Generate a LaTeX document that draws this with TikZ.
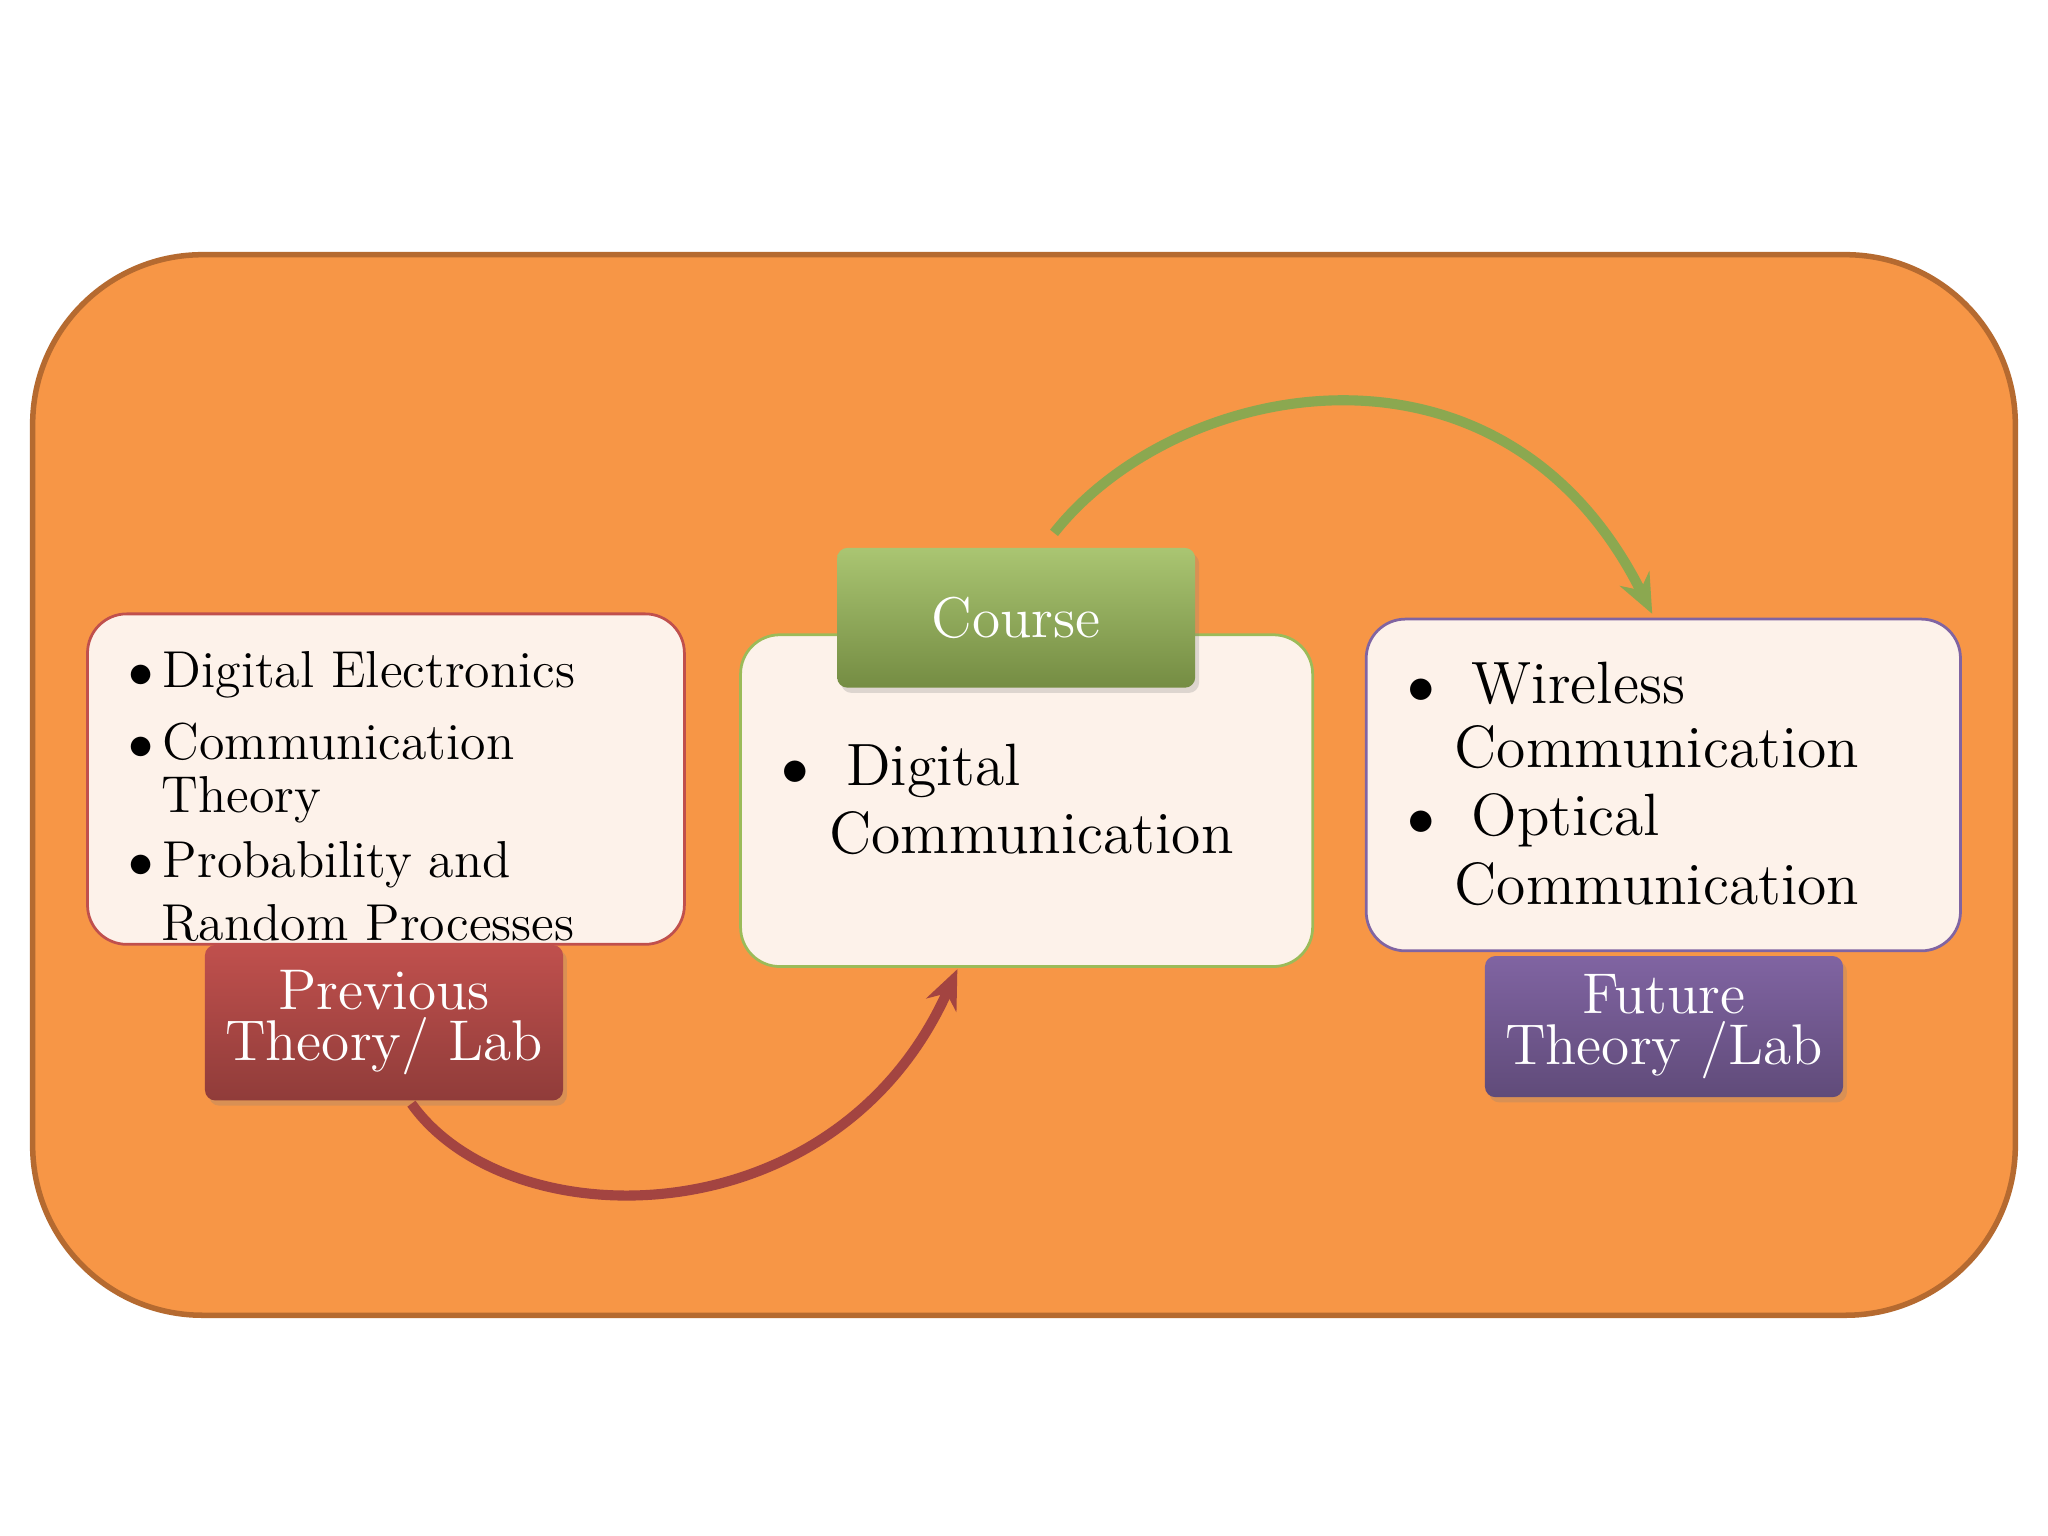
\documentclass[tikz,border=0pt]{standalone}
\usetikzlibrary{arrows.meta,shadows}
\definecolor{orfill}{HTML}{F79646}
\definecolor{orline}{HTML}{B56A30}
\definecolor{boxfill}{HTML}{FDF2EA}
\definecolor{redc}{HTML}{C0504D}
\definecolor{greenc}{HTML}{9BBB59}
\definecolor{purc}{HTML}{8064A2}
\tikzset{
  infobox/.style={draw, fill=boxfill, rounded corners=0.3cm, line width=0.6pt},
  tag/.style={rounded corners=0.08cm, text=white, align=center, font=\fontsize{12.5}{14}\selectfont, drop shadow={opacity=0.25, shadow xshift=0.03cm, shadow yshift=-0.04cm}},
  ltxt/.style={anchor=west, inner sep=0pt, font=\fontsize{11.3}{13}\selectfont},
  btxt/.style={anchor=west, inner sep=0pt, font=\fontsize{13}{15}\selectfont},
  arr/.style={line width=2.2pt, -{Stealth[length=0.3cm,width=0.25cm]}}
}
\begin{document}
\begin{tikzpicture}[x=0.01cm,y=-0.01cm]
\useasboundingbox (0,0) rectangle (1568,1176);
\fill[white] (0,0) rectangle (1568,1176);
\draw[fill=orfill, draw=orline, line width=1.2pt, rounded corners=1.3cm] (25,195) rectangle (1543,1007);
% boxes
\draw[infobox, draw=redc] (67,470) rectangle (524,723);
\draw[infobox, draw=greenc] (567,486) rectangle (1005,740);
\draw[infobox, draw=purc] (1046,474) rectangle (1501,728);
% left texts
\node[ltxt] (l1) at (98,517) {$\bullet$\,Digital Electronics};
\node[ltxt] (l2) at (98,568) {$\bullet$\,Communication};
\node[ltxt] (l3) at (123,612) {Theory};
\node[ltxt] (l4) at (98,662) {$\bullet$\,Probability and};
\node[ltxt] (l5) at (123,707) {Random Processes};
% middle
\node[btxt] (m1) at (598,590) {$\bullet$\hspace{0.28cm}Digital};
\node[btxt] (m2) at (634,638) {Communication};
% right
\node[btxt] (r1) at (1077,523) {$\bullet$\hspace{0.28cm}Wireless};
\node[btxt] (r2) at (1113,572) {Communication};
\node[btxt] (r3) at (1077,628) {$\bullet$\hspace{0.28cm}Optical};
\node[btxt] (r4) at (1113,677) {Communication};
% tags
\node[tag, top color=greenc!85!white, bottom color=greenc!75!black, minimum width=2.74cm, minimum height=1.07cm] (course) at (778,473) {Course};
\node[tag, top color=redc, bottom color=redc!75!black, minimum width=2.74cm, minimum height=1.19cm] (prev) at (294,783) {Previous\\[-3pt]Theory/ Lab};
\node[tag, top color=purc, bottom color=purc!75!black, minimum width=2.74cm, minimum height=1.08cm] (fut) at (1274,786) {Future\\[-3pt]Theory /Lab};
% arrows
\coordinate (ra) at (315,845);
\coordinate (rb) at (733,742);
\coordinate (ga) at (807,408);
\coordinate (gb) at (1265,470);
\draw[arr, draw=redc!85!black] (ra) .. controls (390,950) and (640,950) .. (rb);
\draw[arr, draw=greenc!90!black] (ga) .. controls (900,290) and (1150,240) .. (gb);
\end{tikzpicture}
\end{document}
